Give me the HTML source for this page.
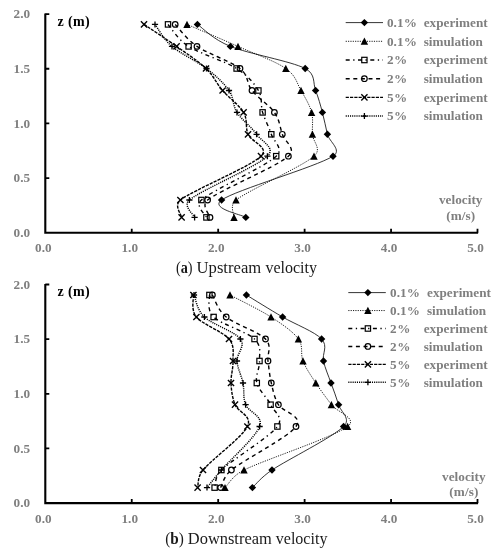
<!DOCTYPE html>
<html lang="en">
<head>
<meta charset="utf-8">
<title>Velocity profiles</title>
<style>
html,body{margin:0;padding:0;background:#fff;}
body{width:500px;height:550px;overflow:hidden;}
svg{display:block;}
text{font-family:"Liberation Serif","DejaVu Serif",serif;}
.g{font-weight:bold;font-size:13.2px;fill:#7f7f7f;}
.k{font-weight:bold;font-size:14px;fill:#000;}
.cap{font-size:16px;fill:#1a1a1a;}
.b{font-weight:bold;}
</style>
</head>
<body>
<svg width="500" height="550" viewBox="0 0 500 550">
<rect width="500" height="550" fill="#fff"/>
<g>
<path d="M45.3 13.5V232.7H478.1" fill="none" stroke="#000" stroke-width="2.1" stroke-linejoin="miter"/>
<path d="M45.3 178.05h4M45.3 123.4h4M45.3 68.75h4M45.3 14.1h4M131.74 232.7v-4M218.18 232.7v-4M304.62 232.7v-4M391.06 232.7v-4M477.5 232.7v-4" fill="none" stroke="#000" stroke-width="1.8"/>
<text x="30.2" y="236.8" class="g" text-anchor="end" textLength="16.6" lengthAdjust="spacing">0.0</text>
<text x="30.2" y="182.15" class="g" text-anchor="end" textLength="16.6" lengthAdjust="spacing">0.5</text>
<text x="30.2" y="127.5" class="g" text-anchor="end" textLength="16.6" lengthAdjust="spacing">1.0</text>
<text x="30.2" y="72.85" class="g" text-anchor="end" textLength="16.6" lengthAdjust="spacing">1.5</text>
<text x="30.2" y="18.2" class="g" text-anchor="end" textLength="16.6" lengthAdjust="spacing">2.0</text>
<text x="43.3" y="252.3" class="g" text-anchor="middle" textLength="16.6" lengthAdjust="spacing">0.0</text>
<text x="129.74" y="252.3" class="g" text-anchor="middle" textLength="16.6" lengthAdjust="spacing">1.0</text>
<text x="216.18" y="252.3" class="g" text-anchor="middle" textLength="16.6" lengthAdjust="spacing">2.0</text>
<text x="302.62" y="252.3" class="g" text-anchor="middle" textLength="16.6" lengthAdjust="spacing">3.0</text>
<text x="389.06" y="252.3" class="g" text-anchor="middle" textLength="16.6" lengthAdjust="spacing">4.0</text>
<text x="475.5" y="252.3" class="g" text-anchor="middle" textLength="16.6" lengthAdjust="spacing">5.0</text>
<text x="57.6" y="25.7" class="k" textLength="32" lengthAdjust="spacing">z (m)</text>
<text x="460.7" y="204.4" class="g" text-anchor="middle" textLength="43.5" lengthAdjust="spacing">velocity</text>
<text x="460.7" y="219.5" class="g" text-anchor="middle" textLength="29" lengthAdjust="spacing">(m/s)</text>
<path d="M197.4 24.4C202.9 28.07 212.43 39.05 230.4 46.4C248.37 53.75 291 61.15 305.2 68.5C316.01 74.09 312.73 83.18 315.6 90.5C318.47 97.82 320.43 105.1 322.4 112.4C324.37 119.7 325.63 127 327.4 134.3C329.17 141.6 342.6 150.24 333 156.2C315.37 167.15 236.13 189.8 221.6 200C209.4 208.56 241.77 214.5 245.8 217.4" fill="none" stroke="#111" stroke-width="0.85"/>
<path d="M193.7 24.4l3.7 -3.7l3.7 3.7l-3.7 3.7z" fill="#000"/><path d="M226.7 46.4l3.7 -3.7l3.7 3.7l-3.7 3.7z" fill="#000"/><path d="M301.5 68.5l3.7 -3.7l3.7 3.7l-3.7 3.7z" fill="#000"/><path d="M311.9 90.5l3.7 -3.7l3.7 3.7l-3.7 3.7z" fill="#000"/><path d="M318.7 112.4l3.7 -3.7l3.7 3.7l-3.7 3.7z" fill="#000"/><path d="M323.7 134.3l3.7 -3.7l3.7 3.7l-3.7 3.7z" fill="#000"/><path d="M329.3 156.2l3.7 -3.7l3.7 3.7l-3.7 3.7z" fill="#000"/><path d="M217.9 200l3.7 -3.7l3.7 3.7l-3.7 3.7z" fill="#000"/><path d="M242.1 217.4l3.7 -3.7l3.7 3.7l-3.7 3.7z" fill="#000"/>
<path d="M187 24.4C195.5 28.07 221.53 39.05 238 46.4C254.47 53.75 275.3 61.15 285.8 68.5C296.3 75.85 296.7 83.18 301 90.5C305.3 97.82 309.7 105.1 311.6 112.4C313.5 119.7 312 127 312.4 134.3C312.8 141.6 322.32 149.04 314 156.2C301.27 167.15 249.33 189.8 236 200C229.04 205.32 234.33 214.5 234 217.4" fill="none" stroke="#000" stroke-width="0.9" stroke-dasharray="1.15 1.2"/>
<path d="M183.3 27.9l3.7 -7.2l3.7 7.2z" fill="#000"/><path d="M234.3 49.9l3.7 -7.2l3.7 7.2z" fill="#000"/><path d="M282.1 72l3.7 -7.2l3.7 7.2z" fill="#000"/><path d="M297.3 94l3.7 -7.2l3.7 7.2z" fill="#000"/><path d="M307.9 115.9l3.7 -7.2l3.7 7.2z" fill="#000"/><path d="M308.7 137.8l3.7 -7.2l3.7 7.2z" fill="#000"/><path d="M310.3 159.7l3.7 -7.2l3.7 7.2z" fill="#000"/><path d="M232.3 203.5l3.7 -7.2l3.7 7.2z" fill="#000"/><path d="M230.3 220.9l3.7 -7.2l3.7 7.2z" fill="#000"/>
<path d="M168 24.4C171.43 28.07 177.17 39.05 188.6 46.4C200.03 53.75 224.97 61.15 236.6 68.5C248.23 75.85 254.07 83.18 258.4 90.5C262.73 97.82 260.45 105.1 262.6 112.4C264.75 119.7 269.03 127 271.3 134.3C273.57 141.6 284.38 148.52 276.2 156.2C264.55 167.15 213.03 189.8 201.4 200C194.59 205.97 205.57 214.5 206.4 217.4" fill="none" stroke="#000" stroke-width="1.4" stroke-dasharray="4 3.5 1.3 3.5"/>
<rect x="165.35" y="21.7" width="5.3" height="5.4" fill="none" stroke="#000" stroke-width="1.2"/><rect x="185.95" y="43.7" width="5.3" height="5.4" fill="none" stroke="#000" stroke-width="1.2"/><rect x="233.95" y="65.8" width="5.3" height="5.4" fill="none" stroke="#000" stroke-width="1.2"/><rect x="255.75" y="87.8" width="5.3" height="5.4" fill="none" stroke="#000" stroke-width="1.2"/><rect x="259.95" y="109.7" width="5.3" height="5.4" fill="none" stroke="#000" stroke-width="1.2"/><rect x="268.65" y="131.6" width="5.3" height="5.4" fill="none" stroke="#000" stroke-width="1.2"/><rect x="273.55" y="153.5" width="5.3" height="5.4" fill="none" stroke="#000" stroke-width="1.2"/><rect x="198.75" y="197.3" width="5.3" height="5.4" fill="none" stroke="#000" stroke-width="1.2"/><rect x="203.75" y="214.7" width="5.3" height="5.4" fill="none" stroke="#000" stroke-width="1.2"/>
<path d="M175.2 24.4C178.83 28.07 186.2 39.05 197 46.4C207.8 53.75 230.83 61.15 240 68.5C249.17 75.85 246.27 83.18 252 90.5C257.73 97.82 269.35 105.1 274.4 112.4C279.45 119.7 279.97 127 282.3 134.3C284.63 141.6 296.94 148.69 288.4 156.2C275.95 167.15 220.67 189.8 207.6 200C200.68 205.4 209.6 214.5 210 217.4" fill="none" stroke="#000" stroke-width="1.4" stroke-dasharray="4 3.6"/>
<circle cx="175.2" cy="24.4" r="2.8" fill="none" stroke="#000" stroke-width="1.2"/><circle cx="197" cy="46.4" r="2.8" fill="none" stroke="#000" stroke-width="1.2"/><circle cx="240" cy="68.5" r="2.8" fill="none" stroke="#000" stroke-width="1.2"/><circle cx="252" cy="90.5" r="2.8" fill="none" stroke="#000" stroke-width="1.2"/><circle cx="274.4" cy="112.4" r="2.8" fill="none" stroke="#000" stroke-width="1.2"/><circle cx="282.3" cy="134.3" r="2.8" fill="none" stroke="#000" stroke-width="1.2"/><circle cx="288.4" cy="156.2" r="2.8" fill="none" stroke="#000" stroke-width="1.2"/><circle cx="207.6" cy="200" r="2.8" fill="none" stroke="#000" stroke-width="1.2"/><circle cx="210" cy="217.4" r="2.8" fill="none" stroke="#000" stroke-width="1.2"/>
<path d="M144 24.4C149.43 28.07 166.27 39.05 176.6 46.4C186.93 53.75 198.33 61.15 206 68.5C213.67 75.85 216.33 83.18 222.6 90.5C228.87 97.82 239.37 105.1 243.6 112.4C247.83 119.7 245.1 127 248 134.3C250.9 141.6 270.13 147.33 261 156.2C249.73 167.15 193.63 189.8 180.4 200C173.49 205.32 181.4 214.5 181.6 217.4" fill="none" stroke="#000" stroke-width="1.4" stroke-dasharray="3.2 1.1"/>
<path d="M140.9 21.3l6.2 6.2m0 -6.2l-6.2 6.2" fill="none" stroke="#000" stroke-width="1.35"/><path d="M173.5 43.3l6.2 6.2m0 -6.2l-6.2 6.2" fill="none" stroke="#000" stroke-width="1.35"/><path d="M202.9 65.4l6.2 6.2m0 -6.2l-6.2 6.2" fill="none" stroke="#000" stroke-width="1.35"/><path d="M219.5 87.4l6.2 6.2m0 -6.2l-6.2 6.2" fill="none" stroke="#000" stroke-width="1.35"/><path d="M240.5 109.3l6.2 6.2m0 -6.2l-6.2 6.2" fill="none" stroke="#000" stroke-width="1.35"/><path d="M244.9 131.2l6.2 6.2m0 -6.2l-6.2 6.2" fill="none" stroke="#000" stroke-width="1.35"/><path d="M257.9 153.1l6.2 6.2m0 -6.2l-6.2 6.2" fill="none" stroke="#000" stroke-width="1.35"/><path d="M177.3 196.9l6.2 6.2m0 -6.2l-6.2 6.2" fill="none" stroke="#000" stroke-width="1.35"/><path d="M178.5 214.3l6.2 6.2m0 -6.2l-6.2 6.2" fill="none" stroke="#000" stroke-width="1.35"/>
<path d="M155 24.4C157.83 28.07 163.42 39.05 172 46.4C180.58 53.75 197 61.15 206.5 68.5C216 75.85 223.92 83.18 229 90.5C234.08 97.82 232.4 105.1 237 112.4C241.6 119.7 251.53 127 256.6 134.3C261.67 141.6 276.13 147.66 267.4 156.2C256.2 167.15 201.53 189.8 189.4 200C182.45 205.84 193.73 214.5 194.6 217.4" fill="none" stroke="#000" stroke-width="1.5" stroke-dasharray="1.1 1.05"/>
<path d="M151.9 24.4h6.2m-3.1 -3v6" fill="none" stroke="#000" stroke-width="1.3"/><path d="M168.9 46.4h6.2m-3.1 -3v6" fill="none" stroke="#000" stroke-width="1.3"/><path d="M203.4 68.5h6.2m-3.1 -3v6" fill="none" stroke="#000" stroke-width="1.3"/><path d="M225.9 90.5h6.2m-3.1 -3v6" fill="none" stroke="#000" stroke-width="1.3"/><path d="M233.9 112.4h6.2m-3.1 -3v6" fill="none" stroke="#000" stroke-width="1.3"/><path d="M253.5 134.3h6.2m-3.1 -3v6" fill="none" stroke="#000" stroke-width="1.3"/><path d="M264.3 156.2h6.2m-3.1 -3v6" fill="none" stroke="#000" stroke-width="1.3"/><path d="M186.3 200h6.2m-3.1 -3v6" fill="none" stroke="#000" stroke-width="1.3"/><path d="M191.5 217.4h6.2m-3.1 -3v6" fill="none" stroke="#000" stroke-width="1.3"/>
<path d="M345.7 22.6H383" fill="none" stroke="#111" stroke-width="0.85"/>
<path d="M360.7 22.6l3.7 -3.7l3.7 3.7l-3.7 3.7z" fill="#000"/>
<text x="386.9" y="26.8" class="g" textLength="30" lengthAdjust="spacing">0.1%</text>
<text x="423.7" y="26.8" class="g" textLength="64" lengthAdjust="spacing">experiment</text>
<path d="M345.7 41.3H383" fill="none" stroke="#000" stroke-width="0.9" stroke-dasharray="1.15 1.2"/>
<path d="M360.7 44.8l3.7 -7.2l3.7 7.2z" fill="#000"/>
<text x="386.9" y="45.5" class="g" textLength="30" lengthAdjust="spacing">0.1%</text>
<text x="423.7" y="45.5" class="g" textLength="59.2" lengthAdjust="spacing">simulation</text>
<path d="M345.7 60H383" fill="none" stroke="#000" stroke-width="1.4" stroke-dasharray="4 3.5 1.3 3.5"/>
<rect x="361.75" y="57.3" width="5.3" height="5.4" fill="none" stroke="#000" stroke-width="1.2"/>
<text x="386.9" y="64.2" class="g" textLength="20.4" lengthAdjust="spacing">2%</text>
<text x="423.7" y="64.2" class="g" textLength="64" lengthAdjust="spacing">experiment</text>
<path d="M345.7 78.7H383" fill="none" stroke="#000" stroke-width="1.4" stroke-dasharray="4 3.6"/>
<circle cx="364.4" cy="78.7" r="2.8" fill="none" stroke="#000" stroke-width="1.2"/>
<text x="386.9" y="82.9" class="g" textLength="20.4" lengthAdjust="spacing">2%</text>
<text x="423.7" y="82.9" class="g" textLength="59.2" lengthAdjust="spacing">simulation</text>
<path d="M345.7 97.4H383" fill="none" stroke="#000" stroke-width="1.4" stroke-dasharray="3.2 1.1"/>
<path d="M361.3 94.3l6.2 6.2m0 -6.2l-6.2 6.2" fill="none" stroke="#000" stroke-width="1.35"/>
<text x="386.9" y="101.6" class="g" textLength="20.4" lengthAdjust="spacing">5%</text>
<text x="423.7" y="101.6" class="g" textLength="64" lengthAdjust="spacing">experiment</text>
<path d="M345.7 116.1H383" fill="none" stroke="#000" stroke-width="1.5" stroke-dasharray="1.1 1.05"/>
<path d="M361.3 116.1h6.2m-3.1 -3v6" fill="none" stroke="#000" stroke-width="1.3"/>
<text x="386.9" y="120.3" class="g" textLength="20.4" lengthAdjust="spacing">5%</text>
<text x="423.7" y="120.3" class="g" textLength="59.2" lengthAdjust="spacing">simulation</text>
</g>
<text x="176" y="273" class="cap" textLength="16.6" lengthAdjust="spacingAndGlyphs">(<tspan class="b">a</tspan>)</text>
<text x="196.6" y="273" class="cap" textLength="64.6" lengthAdjust="spacingAndGlyphs">Upstream</text>
<text x="265.4" y="273" class="cap" textLength="51.6" lengthAdjust="spacingAndGlyphs">velocity</text>
<g>
<path d="M45.3 283.9V503.1H478.1" fill="none" stroke="#000" stroke-width="2.1" stroke-linejoin="miter"/>
<path d="M45.3 448.45h4M45.3 393.8h4M45.3 339.15h4M45.3 284.5h4M131.74 503.1v-4M218.18 503.1v-4M304.62 503.1v-4M391.06 503.1v-4M477.5 503.1v-4" fill="none" stroke="#000" stroke-width="1.8"/>
<text x="30.2" y="507.2" class="g" text-anchor="end" textLength="16.6" lengthAdjust="spacing">0.0</text>
<text x="30.2" y="452.55" class="g" text-anchor="end" textLength="16.6" lengthAdjust="spacing">0.5</text>
<text x="30.2" y="397.9" class="g" text-anchor="end" textLength="16.6" lengthAdjust="spacing">1.0</text>
<text x="30.2" y="343.25" class="g" text-anchor="end" textLength="16.6" lengthAdjust="spacing">1.5</text>
<text x="30.2" y="288.6" class="g" text-anchor="end" textLength="16.6" lengthAdjust="spacing">2.0</text>
<text x="43.3" y="522.7" class="g" text-anchor="middle" textLength="16.6" lengthAdjust="spacing">0.0</text>
<text x="129.74" y="522.7" class="g" text-anchor="middle" textLength="16.6" lengthAdjust="spacing">1.0</text>
<text x="216.18" y="522.7" class="g" text-anchor="middle" textLength="16.6" lengthAdjust="spacing">2.0</text>
<text x="302.62" y="522.7" class="g" text-anchor="middle" textLength="16.6" lengthAdjust="spacing">3.0</text>
<text x="389.06" y="522.7" class="g" text-anchor="middle" textLength="16.6" lengthAdjust="spacing">4.0</text>
<text x="475.5" y="522.7" class="g" text-anchor="middle" textLength="16.6" lengthAdjust="spacing">5.0</text>
<text x="57.6" y="296.1" class="k" textLength="32" lengthAdjust="spacing">z (m)</text>
<text x="463.8" y="480.9" class="g" text-anchor="middle" textLength="43.5" lengthAdjust="spacing">velocity</text>
<text x="463.8" y="496" class="g" text-anchor="middle" textLength="29" lengthAdjust="spacing">(m/s)</text>
<path d="M246.4 295C252.43 298.67 270.07 309.67 282.6 317C295.13 324.33 314.78 331.67 321.6 339C328.42 346.33 321.93 353.67 323.5 361C325.07 368.33 328.48 375.72 331 383C333.52 390.28 336.5 397.45 338.6 404.7C340.7 411.95 351.59 418.67 343.6 426.5C332.5 437.38 287.2 459.82 272 470C261.06 477.33 255.67 484.67 252.4 487.6" fill="none" stroke="#111" stroke-width="0.85"/>
<path d="M242.7 295l3.7 -3.7l3.7 3.7l-3.7 3.7z" fill="#000"/><path d="M278.9 317l3.7 -3.7l3.7 3.7l-3.7 3.7z" fill="#000"/><path d="M317.9 339l3.7 -3.7l3.7 3.7l-3.7 3.7z" fill="#000"/><path d="M319.8 361l3.7 -3.7l3.7 3.7l-3.7 3.7z" fill="#000"/><path d="M327.3 383l3.7 -3.7l3.7 3.7l-3.7 3.7z" fill="#000"/><path d="M334.9 404.7l3.7 -3.7l3.7 3.7l-3.7 3.7z" fill="#000"/><path d="M339.9 426.5l3.7 -3.7l3.7 3.7l-3.7 3.7z" fill="#000"/><path d="M268.3 470l3.7 -3.7l3.7 3.7l-3.7 3.7z" fill="#000"/><path d="M248.7 487.6l3.7 -3.7l3.7 3.7l-3.7 3.7z" fill="#000"/>
<path d="M230 295C236.83 298.67 259.6 309.67 271 317C282.4 324.33 293.07 331.67 298.4 339C303.73 346.33 300.1 353.67 303 361C305.9 368.33 311.07 375.72 315.8 383C320.53 390.28 326.1 397.45 331.4 404.7C336.7 411.95 358.48 418.37 347.6 426.5C333.03 437.38 264.43 459.82 244 470C232.41 475.78 228.17 484.67 225 487.6" fill="none" stroke="#000" stroke-width="0.9" stroke-dasharray="1.15 1.2"/>
<path d="M226.3 298.5l3.7 -7.2l3.7 7.2z" fill="#000"/><path d="M267.3 320.5l3.7 -7.2l3.7 7.2z" fill="#000"/><path d="M294.7 342.5l3.7 -7.2l3.7 7.2z" fill="#000"/><path d="M299.3 364.5l3.7 -7.2l3.7 7.2z" fill="#000"/><path d="M312.1 386.5l3.7 -7.2l3.7 7.2z" fill="#000"/><path d="M327.7 408.2l3.7 -7.2l3.7 7.2z" fill="#000"/><path d="M343.9 430l3.7 -7.2l3.7 7.2z" fill="#000"/><path d="M240.3 473.5l3.7 -7.2l3.7 7.2z" fill="#000"/><path d="M221.3 491.1l3.7 -7.2l3.7 7.2z" fill="#000"/>
<path d="M209.4 295C210.1 298.67 206.08 309.67 213.6 317C221.12 324.33 246.85 331.67 254.5 339C262.15 346.33 259.12 353.67 259.5 361C259.88 368.33 254.95 375.72 256.8 383C258.65 390.28 267.17 397.45 270.6 404.7C274.03 411.95 284.27 417.38 277.4 426.5C269.2 437.38 231.87 459.82 221.4 470C214.64 476.58 215.73 484.67 214.6 487.6" fill="none" stroke="#000" stroke-width="1.4" stroke-dasharray="4 3.5 1.3 3.5"/>
<rect x="206.75" y="292.3" width="5.3" height="5.4" fill="none" stroke="#000" stroke-width="1.2"/><rect x="210.95" y="314.3" width="5.3" height="5.4" fill="none" stroke="#000" stroke-width="1.2"/><rect x="251.85" y="336.3" width="5.3" height="5.4" fill="none" stroke="#000" stroke-width="1.2"/><rect x="256.85" y="358.3" width="5.3" height="5.4" fill="none" stroke="#000" stroke-width="1.2"/><rect x="254.15" y="380.3" width="5.3" height="5.4" fill="none" stroke="#000" stroke-width="1.2"/><rect x="267.95" y="402" width="5.3" height="5.4" fill="none" stroke="#000" stroke-width="1.2"/><rect x="274.75" y="423.8" width="5.3" height="5.4" fill="none" stroke="#000" stroke-width="1.2"/><rect x="218.75" y="467.3" width="5.3" height="5.4" fill="none" stroke="#000" stroke-width="1.2"/><rect x="211.95" y="484.9" width="5.3" height="5.4" fill="none" stroke="#000" stroke-width="1.2"/>
<path d="M212.4 295C214.7 298.67 217.35 309.67 226.2 317C235.05 324.33 258.53 331.67 265.5 339C272.47 346.33 267.03 353.67 268 361C268.97 368.33 269.57 375.72 271.3 383C273.03 390.28 274.28 397.45 278.4 404.7C282.52 411.95 303.83 415.62 296 426.5C288.17 437.38 243.97 459.82 231.4 470C223.38 476.5 222.4 484.67 220.6 487.6" fill="none" stroke="#000" stroke-width="1.4" stroke-dasharray="4 3.6"/>
<circle cx="212.4" cy="295" r="2.8" fill="none" stroke="#000" stroke-width="1.2"/><circle cx="226.2" cy="317" r="2.8" fill="none" stroke="#000" stroke-width="1.2"/><circle cx="265.5" cy="339" r="2.8" fill="none" stroke="#000" stroke-width="1.2"/><circle cx="268" cy="361" r="2.8" fill="none" stroke="#000" stroke-width="1.2"/><circle cx="271.3" cy="383" r="2.8" fill="none" stroke="#000" stroke-width="1.2"/><circle cx="278.4" cy="404.7" r="2.8" fill="none" stroke="#000" stroke-width="1.2"/><circle cx="296" cy="426.5" r="2.8" fill="none" stroke="#000" stroke-width="1.2"/><circle cx="231.4" cy="470" r="2.8" fill="none" stroke="#000" stroke-width="1.2"/><circle cx="220.6" cy="487.6" r="2.8" fill="none" stroke="#000" stroke-width="1.2"/>
<path d="M193.4 295C193.9 298.67 190.47 309.67 196.4 317C202.33 324.33 222.9 331.67 229 339C235.1 346.33 232.67 353.67 233 361C233.33 368.33 230.67 375.72 231 383C231.33 390.28 232.27 397.45 235 404.7C237.73 411.95 252.73 415.62 247.4 426.5C242.07 437.38 211.3 459.82 203 470C197.18 477.14 198.5 484.67 197.6 487.6" fill="none" stroke="#000" stroke-width="1.4" stroke-dasharray="3.2 1.1"/>
<path d="M190.3 291.9l6.2 6.2m0 -6.2l-6.2 6.2" fill="none" stroke="#000" stroke-width="1.35"/><path d="M193.3 313.9l6.2 6.2m0 -6.2l-6.2 6.2" fill="none" stroke="#000" stroke-width="1.35"/><path d="M225.9 335.9l6.2 6.2m0 -6.2l-6.2 6.2" fill="none" stroke="#000" stroke-width="1.35"/><path d="M229.9 357.9l6.2 6.2m0 -6.2l-6.2 6.2" fill="none" stroke="#000" stroke-width="1.35"/><path d="M227.9 379.9l6.2 6.2m0 -6.2l-6.2 6.2" fill="none" stroke="#000" stroke-width="1.35"/><path d="M231.9 401.6l6.2 6.2m0 -6.2l-6.2 6.2" fill="none" stroke="#000" stroke-width="1.35"/><path d="M244.3 423.4l6.2 6.2m0 -6.2l-6.2 6.2" fill="none" stroke="#000" stroke-width="1.35"/><path d="M199.9 466.9l6.2 6.2m0 -6.2l-6.2 6.2" fill="none" stroke="#000" stroke-width="1.35"/><path d="M194.5 484.5l6.2 6.2m0 -6.2l-6.2 6.2" fill="none" stroke="#000" stroke-width="1.35"/>
<path d="M194 295C195.73 298.67 196.67 309.67 204.4 317C212.13 324.33 234.97 331.67 240.4 339C245.83 346.33 236.57 353.67 237 361C237.43 368.33 241.57 375.72 243 383C244.43 390.28 242.83 397.45 245.6 404.7C248.37 411.95 263.63 415.62 259.6 426.5C255.57 437.38 230.17 459.82 221.4 470C213.98 478.62 209.4 484.67 207 487.6" fill="none" stroke="#000" stroke-width="1.5" stroke-dasharray="1.1 1.05"/>
<path d="M190.9 295h6.2m-3.1 -3v6" fill="none" stroke="#000" stroke-width="1.3"/><path d="M201.3 317h6.2m-3.1 -3v6" fill="none" stroke="#000" stroke-width="1.3"/><path d="M237.3 339h6.2m-3.1 -3v6" fill="none" stroke="#000" stroke-width="1.3"/><path d="M233.9 361h6.2m-3.1 -3v6" fill="none" stroke="#000" stroke-width="1.3"/><path d="M239.9 383h6.2m-3.1 -3v6" fill="none" stroke="#000" stroke-width="1.3"/><path d="M242.5 404.7h6.2m-3.1 -3v6" fill="none" stroke="#000" stroke-width="1.3"/><path d="M256.5 426.5h6.2m-3.1 -3v6" fill="none" stroke="#000" stroke-width="1.3"/><path d="M218.3 470h6.2m-3.1 -3v6" fill="none" stroke="#000" stroke-width="1.3"/><path d="M203.9 487.6h6.2m-3.1 -3v6" fill="none" stroke="#000" stroke-width="1.3"/>
<path d="M348.3 292.6H385.8" fill="none" stroke="#111" stroke-width="0.85"/>
<path d="M364.2 292.6l3.7 -3.7l3.7 3.7l-3.7 3.7z" fill="#000"/>
<text x="390" y="296.8" class="g" textLength="30" lengthAdjust="spacing">0.1%</text>
<text x="427" y="296.8" class="g" textLength="64" lengthAdjust="spacing">experiment</text>
<path d="M348.3 310.55H385.8" fill="none" stroke="#000" stroke-width="0.9" stroke-dasharray="1.15 1.2"/>
<path d="M364.2 314.05l3.7 -7.2l3.7 7.2z" fill="#000"/>
<text x="390" y="314.75" class="g" textLength="30" lengthAdjust="spacing">0.1%</text>
<text x="427" y="314.75" class="g" textLength="59.2" lengthAdjust="spacing">simulation</text>
<path d="M348.3 328.5H385.8" fill="none" stroke="#000" stroke-width="1.4" stroke-dasharray="4 3.5 1.3 3.5"/>
<rect x="365.25" y="325.8" width="5.3" height="5.4" fill="none" stroke="#000" stroke-width="1.2"/>
<text x="390" y="332.7" class="g" textLength="20.4" lengthAdjust="spacing">2%</text>
<text x="423.7" y="332.7" class="g" textLength="64" lengthAdjust="spacing">experiment</text>
<path d="M348.3 346.45H385.8" fill="none" stroke="#000" stroke-width="1.4" stroke-dasharray="4 3.6"/>
<circle cx="367.9" cy="346.45" r="2.8" fill="none" stroke="#000" stroke-width="1.2"/>
<text x="390" y="350.65" class="g" textLength="20.4" lengthAdjust="spacing">2%</text>
<text x="423.7" y="350.65" class="g" textLength="59.2" lengthAdjust="spacing">simulation</text>
<path d="M348.3 364.4H385.8" fill="none" stroke="#000" stroke-width="1.4" stroke-dasharray="3.2 1.1"/>
<path d="M364.8 361.3l6.2 6.2m0 -6.2l-6.2 6.2" fill="none" stroke="#000" stroke-width="1.35"/>
<text x="390" y="368.6" class="g" textLength="20.4" lengthAdjust="spacing">5%</text>
<text x="423.7" y="368.6" class="g" textLength="64" lengthAdjust="spacing">experiment</text>
<path d="M348.3 382.35H385.8" fill="none" stroke="#000" stroke-width="1.5" stroke-dasharray="1.1 1.05"/>
<path d="M364.8 382.35h6.2m-3.1 -3v6" fill="none" stroke="#000" stroke-width="1.3"/>
<text x="390" y="386.55" class="g" textLength="20.4" lengthAdjust="spacing">5%</text>
<text x="423.7" y="386.55" class="g" textLength="59.2" lengthAdjust="spacing">simulation</text>
</g>
<text x="165.2" y="543.7" class="cap" textLength="18.6" lengthAdjust="spacingAndGlyphs">(<tspan class="b">b</tspan>)</text>
<text x="187.8" y="543.7" class="cap" textLength="84" lengthAdjust="spacingAndGlyphs">Downstream</text>
<text x="275.8" y="543.7" class="cap" textLength="51.6" lengthAdjust="spacingAndGlyphs">velocity</text>
</svg>
</body>
</html>
